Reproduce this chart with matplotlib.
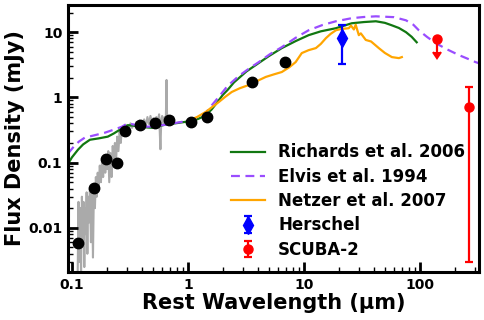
import matplotlib
matplotlib.use("Agg")
import matplotlib.pyplot as plt
from matplotlib.ticker import FixedLocator, FixedFormatter, LogLocator, NullFormatter

# photometry (rest wavelength um, flux mJy)
phot_wl = [0.113, 0.155, 0.196, 0.244, 0.286, 0.39, 0.52, 0.685, 1.06, 1.46, 3.56, 6.9]
phot_f = [0.0059, 0.041, 0.115, 0.10, 0.31, 0.38, 0.41, 0.455, 0.425, 0.50, 1.75, 3.5]

herschel_wl = [21.3]
herschel_f = [8.1]
herschel_lo = [4.9]
herschel_hi = [4.7]

scuba_lim_wl = [140.0]
scuba_lim_f = [7.8]
scuba_lim_err = [2.9]

scuba_wl = [267.0]
scuba_f = [0.70]
scuba_lo = [0.697]
scuba_hi = [0.72]

# template SEDs
richards_wl = [0.0924, 0.10, 0.113, 0.125, 0.143, 0.17, 0.204, 0.23, 0.259, 0.28, 0.304,
               0.349, 0.41, 0.49, 0.634, 0.94, 1.2, 1.40, 1.6, 1.8, 2.0, 2.2, 2.5, 3.2,
               4.09, 5.0, 6.46, 8.5, 11.0, 14.0, 18.9, 25.9, 33.0, 41.8, 50.0, 57.0,
               66.0, 76.0, 85.0, 94.0]
richards_f = [0.095, 0.12, 0.158, 0.19, 0.224, 0.235, 0.25, 0.28, 0.319, 0.355, 0.375,
              0.367, 0.35, 0.342, 0.38, 0.42, 0.46, 0.52, 0.65, 0.85, 1.09, 1.3, 1.7, 2.5,
              3.37, 4.3, 5.7, 7.3, 9.0, 10.3, 11.5, 13.7, 14.3, 14.7, 13.9, 12.8,
              11.6, 10.0, 8.5, 7.0]

elvis_wl = [0.0924, 0.105, 0.115, 0.129, 0.16, 0.192, 0.23, 0.27, 0.304, 0.35, 0.452,
            0.634, 1.02, 1.25, 1.45, 1.65, 1.85, 2.2, 2.75, 3.4, 4.09, 5.1, 6.46, 8.5, 11.0,
            14.5, 18.9, 25.9, 33.0, 41.8, 60.0, 76.0, 88.0, 98.0, 115.0, 137.0, 170.0,
            217.0, 260.0, 302.0, 330.0]
elvis_f = [0.137, 0.18, 0.21, 0.241, 0.265, 0.287, 0.32, 0.355, 0.40, 0.38, 0.355,
           0.38, 0.44, 0.5, 0.6, 0.8, 1.02, 1.5, 2.13, 2.8, 3.48, 4.6, 5.9, 8.2, 10.7,
           12.9, 14.7, 16.4, 17.1, 17.5, 17.0, 15.2, 13.0, 10.7, 8.5, 6.8, 5.5,
           4.46, 3.9, 3.48, 3.3]

netzer_wl = [1.02, 1.2, 1.43, 1.6, 1.85, 2.1, 2.39, 2.8, 3.36, 4.0, 4.70, 5.5, 6.46, 7.5,
             8.5, 9.6, 11.0, 12.7, 14.0, 15.5, 17.0, 18.9, 21.0, 24.4, 25.5, 27.0, 28.0,
             29.8, 31.0, 34.2, 38.0, 44.3, 50.0, 57.4, 66.0, 70.0]
netzer_f = [0.44, 0.5, 0.60, 0.7, 0.85, 1.02, 1.21, 1.38, 1.55, 1.8, 2.06, 2.25, 2.45, 2.9,
            3.48, 4.78, 5.3, 5.7, 6.6, 8.1, 9.4, 10.7, 11.2, 11.5, 12.6, 11.0, 13.0,
            9.0, 9.6, 7.6, 7.2, 5.7, 4.8, 4.15, 4.0, 4.15]

# optical/UV spectrum
spec_wl = [0.112, 0.114, 0.116, 0.118, 0.120, 0.122, 0.124, 0.126, 0.128, 0.130, 0.132,
           0.134, 0.136, 0.138, 0.140, 0.143, 0.146, 0.149, 0.152, 0.155, 0.158, 0.161,
           0.164, 0.167, 0.170, 0.174, 0.178, 0.182, 0.186, 0.190, 0.194, 0.198, 0.202,
           0.206, 0.210, 0.215, 0.220, 0.225, 0.230, 0.235, 0.240, 0.246, 0.252, 0.258,
           0.264, 0.270, 0.278, 0.286, 0.294, 0.302, 0.310, 0.320, 0.330, 0.340, 0.350,
           0.360, 0.372, 0.384, 0.396, 0.408, 0.420, 0.434, 0.448, 0.462, 0.476, 0.490,
           0.505, 0.520, 0.535, 0.550, 0.565, 0.580, 0.590, 0.600, 0.615, 0.630, 0.645,
           0.655, 0.662, 0.670, 0.685, 0.700, 0.715, 0.730, 0.745]
spec_f = [0.0015, 0.025, 0.003, 0.02, 0.0018, 0.03, 0.006, 0.025, 0.0025, 0.02, 0.008,
          0.035, 0.004, 0.03, 0.012, 0.04, 0.006, 0.035, 0.0035, 0.045, 0.02, 0.06,
          0.03, 0.07, 0.04, 0.09, 0.05, 0.11, 0.06, 0.13, 0.07, 0.12, 0.08,
          0.15, 0.05, 0.14, 0.06, 0.18, 0.09, 0.2, 0.1, 0.25, 0.15, 0.3,
          0.2, 0.35, 0.28, 0.38, 0.3, 0.36, 0.33, 0.4, 0.34, 0.38, 0.36,
          0.42, 0.37, 0.44, 0.38, 0.4, 0.46, 0.36, 0.5, 0.39, 0.52, 0.4,
          0.48, 0.38, 0.5, 0.42, 0.55, 0.16, 0.45, 0.52, 0.4, 0.5, 0.42,
          1.85, 0.5, 0.42, 0.5, 0.4, 0.47, 0.42, 0.5]

xticks = [0.1, 1, 10, 100]
xticklabels = ["0.1", "1", "10", "100"]
yticks = [0.01, 0.1, 1, 10]
yticklabels = ["0.01", "0.1", "1", "10"]

plt.rcParams["font.family"] = "DejaVu Sans"
plt.rcParams["font.weight"] = "bold"

fig = plt.figure(figsize=(4.85, 3.2), dpi=100)
ax = fig.add_axes([0.140, 0.150, 0.848, 0.834])

ax.plot(spec_wl, spec_f, color="#aaaaaa", lw=1.5, zorder=1)
ax.plot(richards_wl, richards_f, color="#117711", lw=1.6, label="Richards et al. 2006", zorder=2)
ax.plot(elvis_wl, elvis_f, color="#9a4dff", lw=1.6, ls="--", dashes=(4, 2.5),
        label="Elvis et al. 1994", zorder=2)
ax.plot(netzer_wl, netzer_f, color="orange", lw=1.6, label="Netzer et al. 2007", zorder=2)
ax.plot(phot_wl, phot_f, "o", color="black", ms=7.5, zorder=4)

ax.errorbar(herschel_wl, herschel_f, yerr=[herschel_lo, herschel_hi], fmt="d", color="blue",
            ms=9, capsize=3, elinewidth=1.6, capthick=1.6, label="Herschel", zorder=5)
ax.errorbar(scuba_wl, scuba_f, yerr=[scuba_lo, scuba_hi], fmt="o", color="red",
            ms=6.5, capsize=3, elinewidth=1.6, capthick=1.6, label="SCUBA-2", zorder=5)
ax.errorbar(scuba_lim_wl, scuba_lim_f, yerr=scuba_lim_err, uplims=True, fmt="o", color="red",
            ms=6.5, capsize=3, elinewidth=1.6, capthick=1.6, zorder=5)

ax.set_xscale("log")
ax.set_yscale("log")
ax.set_xlim(0.0924, 325)
ax.set_ylim(0.0021, 26)

ax.xaxis.set_major_locator(FixedLocator(xticks))
ax.xaxis.set_major_formatter(FixedFormatter(xticklabels))
ax.yaxis.set_major_locator(FixedLocator(yticks))
ax.yaxis.set_major_formatter(FixedFormatter(yticklabels))
ax.xaxis.set_minor_locator(LogLocator(base=10, subs=range(2, 10)))
ax.yaxis.set_minor_locator(LogLocator(base=10, subs=range(2, 10)))
ax.xaxis.set_minor_formatter(NullFormatter())
ax.yaxis.set_minor_formatter(NullFormatter())

ax.tick_params(which="major", direction="in", length=7, width=2, labelsize=10, pad=4)
ax.tick_params(which="minor", direction="in", length=3.5, width=1)
for s in ax.spines.values():
    s.set_linewidth(2.2)
for lab in ax.get_xticklabels() + ax.get_yticklabels():
    lab.set_fontweight("bold")

ax.set_xlabel("Rest Wavelength (\u03bcm)", fontsize=15, fontweight="bold", labelpad=1)
ax.set_ylabel("Flux Density (mJy)", fontsize=15, fontweight="bold", labelpad=2)

leg = ax.legend(loc="lower right", bbox_to_anchor=(0.99, 0.012), frameon=False,
                prop={"size": 12, "weight": "bold"}, handlelength=2.0, handletextpad=0.8,
                labelspacing=0.38, borderaxespad=0.2)

fig.savefig("out.png", dpi=100)
